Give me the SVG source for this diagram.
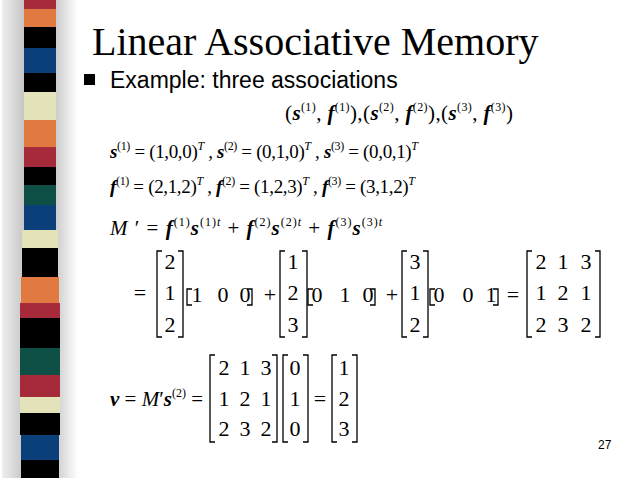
<svg xmlns="http://www.w3.org/2000/svg" width="638" height="478" viewBox="0 0 638 478">
<defs>
<linearGradient id="sh" x1="0" x2="1" y1="0" y2="0">
<stop offset="0" stop-color="#eeeeee"/><stop offset="0.45" stop-color="#b0b0b0"/><stop offset="0.55" stop-color="#b0b0b0"/><stop offset="1" stop-color="#ffffff"/>
</linearGradient>
</defs>
<style>
.m{font-family:"Liberation Serif",serif;font-size:21px;fill:#000}
.s19{font-size:19px}
.d{font-size:22px}
.b{font-weight:bold;font-style:italic}
.i{font-style:italic}
.sp{font-size:12px}
.br{fill:none;stroke:#000;stroke-width:1.3}
</style>
<rect width="638" height="478" fill="#fff"/>
<g id="strip">
<rect x="2" y="0" width="76" height="478" fill="url(#sh)"/>
<rect x="24" y="0" width="32" height="9" fill="#a52a3a"/>
<rect x="24" y="9" width="32" height="18" fill="#e07a40"/>
<rect x="24" y="27" width="32" height="21" fill="#000"/>
<rect x="24" y="48" width="32" height="25" fill="#0b3f7a"/>
<rect x="24" y="73" width="32" height="19" fill="#000"/>
<rect x="24" y="92" width="32" height="28" fill="#e4e2b8"/>
<rect x="24" y="120" width="32" height="27" fill="#e07a40"/>
<rect x="24" y="147" width="32" height="20" fill="#a52a3a"/>
<rect x="24" y="167" width="32" height="18" fill="#000"/>
<rect x="24" y="185" width="32" height="20" fill="#0e5045"/>
<rect x="24" y="205" width="32" height="25" fill="#0b3f7a"/>
<rect x="22" y="230" width="36" height="18" fill="#e4e2b8"/>
<rect x="22" y="248" width="36" height="29" fill="#000"/>
<rect x="21" y="277" width="38" height="26" fill="#e07a40"/>
<rect x="20" y="303" width="40" height="15" fill="#a52a3a"/>
<rect x="20" y="318" width="40" height="30" fill="#000"/>
<rect x="20" y="348" width="40" height="27" fill="#0e5045"/>
<rect x="20" y="375" width="40" height="22" fill="#a52a3a"/>
<rect x="20" y="397" width="40" height="16" fill="#e4e2b8"/>
<rect x="20" y="413" width="40" height="22" fill="#000"/>
<rect x="21" y="435" width="38" height="25" fill="#0b3f7a"/>
<rect x="21" y="460" width="38" height="18" fill="#000"/>
</g>
<g id="title">
<text x="92" y="55" font-family="Liberation Serif,serif" font-size="40">Linear Associative Memory</text>
<rect x="84" y="74" width="11" height="11" fill="#000"/>
<text x="110" y="88" font-family="Liberation Sans,sans-serif" font-size="23">Example: three associations</text>
</g>
<g id="eq1">
<text class="m" x="285" y="120" textLength="228" lengthAdjust="spacing">(<tspan class="b">s</tspan><tspan class="sp" dy="-9">(1)</tspan><tspan dy="9">, </tspan><tspan class="b">f</tspan><tspan class="sp" dy="-9">(1)</tspan><tspan dy="9">),(</tspan><tspan class="b">s</tspan><tspan class="sp" dy="-9">(2)</tspan><tspan dy="9">, </tspan><tspan class="b">f</tspan><tspan class="sp" dy="-9">(2)</tspan><tspan dy="9">),(</tspan><tspan class="b">s</tspan><tspan class="sp" dy="-9">(3)</tspan><tspan dy="9">, </tspan><tspan class="b">f</tspan><tspan class="sp" dy="-9">(3)</tspan><tspan dy="9">)</tspan></text>
<text class="m s19" x="110" y="158" textLength="308" lengthAdjust="spacing"><tspan class="b">s</tspan><tspan class="sp" dy="-8">(1)</tspan><tspan dy="8"> = (1,0,0)</tspan><tspan class="sp i" dy="-8">T</tspan><tspan dy="8"> , </tspan><tspan class="b">s</tspan><tspan class="sp" dy="-8">(2)</tspan><tspan dy="8"> = (0,1,0)</tspan><tspan class="sp i" dy="-8">T</tspan><tspan dy="8"> , </tspan><tspan class="b">s</tspan><tspan class="sp" dy="-8">(3)</tspan><tspan dy="8"> = (0,0,1)</tspan><tspan class="sp i" dy="-8">T</tspan></text>
<text class="m s19" x="110" y="193" textLength="305" lengthAdjust="spacing"><tspan class="b">f</tspan><tspan class="sp" dy="-8">(1)</tspan><tspan dy="8"> = (2,1,2)</tspan><tspan class="sp i" dy="-8">T</tspan><tspan dy="8"> , </tspan><tspan class="b">f</tspan><tspan class="sp" dy="-8">(2)</tspan><tspan dy="8"> = (1,2,3)</tspan><tspan class="sp i" dy="-8">T</tspan><tspan dy="8"> , </tspan><tspan class="b">f</tspan><tspan class="sp" dy="-8">(3)</tspan><tspan dy="8"> = (3,1,2)</tspan><tspan class="sp i" dy="-8">T</tspan></text>
<text class="m" x="110" y="235" textLength="272" lengthAdjust="spacing"><tspan class="i">M</tspan> ′ = <tspan class="b">f</tspan><tspan class="sp" dy="-9">(1)</tspan><tspan class="b" dy="9">s</tspan><tspan class="sp" dy="-9">(1)<tspan class="i">t</tspan></tspan><tspan dy="9"> + </tspan><tspan class="b">f</tspan><tspan class="sp" dy="-9">(2)</tspan><tspan class="b" dy="9">s</tspan><tspan class="sp" dy="-9">(2)<tspan class="i">t</tspan></tspan><tspan dy="9"> + </tspan><tspan class="b">f</tspan><tspan class="sp" dy="-9">(3)</tspan><tspan class="b" dy="9">s</tspan><tspan class="sp" dy="-9">(3)<tspan class="i">t</tspan></tspan></text>
</g>
<g id="eq2" class="m d" text-anchor="middle">
<text x="140" y="300">=</text>
<path class="br" d="M162,251H157V337H162 M178,251H183V337H178"/>
<text x="170" y="269">2</text><text x="170" y="300">1</text><text x="170" y="332">2</text>
<path class="br" d="M192,289H187V305H192 M247,289H252V305H247"/>
<text x="197" y="302">1</text><text x="223" y="302">0</text><text x="245" y="302">0</text>
<text x="270" y="302">+</text>
<path class="br" d="M285,251H280V337H285 M302,251H307V337H302"/>
<text x="293" y="269">1</text><text x="293" y="300">2</text><text x="293" y="332">3</text>
<path class="br" d="M313,289H308V305H313 M370,289H375V305H370"/>
<text x="317" y="302">0</text><text x="345" y="302">1</text><text x="368" y="302">0</text>
<text x="392" y="302">+</text>
<path class="br" d="M407,251H402V337H407 M423,251H428V337H423"/>
<text x="415" y="269">3</text><text x="415" y="300">1</text><text x="415" y="332">2</text>
<path class="br" d="M435,289H430V305H435 M493,289H498V305H493"/>
<text x="439" y="302">0</text><text x="468" y="302">0</text><text x="491" y="302">1</text>
<text x="513" y="302">=</text>
<path class="br" d="M532,251H527V337H532 M595,251H600V337H595"/>
<text x="541" y="269">2</text><text x="563" y="269">1</text><text x="586" y="269">3</text>
<text x="541" y="300">1</text><text x="563" y="300">2</text><text x="586" y="300">1</text>
<text x="541" y="332">2</text><text x="563" y="332">3</text><text x="586" y="332">2</text>
</g>
<g id="eq3" class="m">
<text x="110" y="406"><tspan class="b">v</tspan> = <tspan class="i">M</tspan>′<tspan class="b">s</tspan><tspan class="sp" dy="-9">(2)</tspan><tspan dy="9"> =</tspan></text>
<g text-anchor="middle" class="d">
<path class="br" d="M215,355H210V442H215 M272,355H277V442H272"/>
<text x="224" y="375">2</text><text x="245" y="375">1</text><text x="266" y="375">3</text>
<text x="224" y="406">1</text><text x="245" y="406">2</text><text x="266" y="406">1</text>
<text x="224" y="436">2</text><text x="245" y="436">3</text><text x="266" y="436">2</text>
<path class="br" d="M288,355H283V442H288 M303,355H308V442H303"/>
<text x="295" y="375">0</text><text x="295" y="406">1</text><text x="295" y="436">0</text>
<text x="320" y="406">=</text>
<path class="br" d="M337,355H332V442H337 M352,355H357V442H352"/>
<text x="344" y="375">1</text><text x="344" y="406">2</text><text x="344" y="436">3</text>
</g>
</g>
<text x="598" y="449" font-family="Liberation Sans,sans-serif" font-size="12">27</text>
</svg>
